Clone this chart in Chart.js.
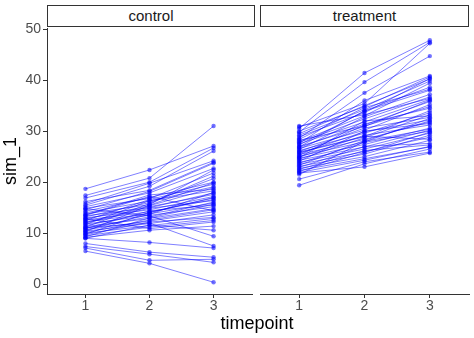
<!DOCTYPE html>
<html lang="en">
<head>
  <meta charset="UTF-8">
  <title>sim_1 by timepoint</title>
  <script src="https://cdn.jsdelivr.net/npm/chart.js"></script>
  <style>
    body { margin: 0; background: #fff; font-family: "Liberation Sans", Arial, sans-serif; }
    #wrap { position: relative; width: 474px; height: 338px; }
    .strip { position: absolute; top: 5px; height: 22px; box-sizing: border-box; border: 1px solid #333;
             text-align: center; line-height: 20px; font-size: 15px; color: #1a1a1a; background: #fff; }
    .panel { position: absolute; top: 0; }
    #xtitle { position: absolute; left: 0; width: 514px; top: 313px; text-align: center; font-size: 18px; line-height: 20px; color: #000; }
  </style>
</head>
<body>
<div id="wrap">
  <div class="panel" style="left:0"><canvas id="leftChart" width="256" height="338"></canvas></div>
  <div class="panel" style="left:256px"><canvas id="rightChart" width="218" height="338"></canvas></div>
  <div class="strip" style="left:47px;width:208px">control</div>
  <div class="strip" style="left:260px;width:209px">treatment</div>
  <div id="xtitle">timepoint</div>
</div>

<script>
  // tick values and categories
  const timepoints = [1, 2, 3];
  const yTicks = [0, 10, 20, 30, 40, 50];
  const groups = ['control', 'treatment'];

  // one value per subject at each timepoint
  const controlT1 = [18.7, 17.4, 16.9, 16.2, 15.5, 15.2, 14.9, 14.6, 14.3, 14.0,
                     13.8, 13.6, 13.4, 13.2, 13.0, 12.8, 12.6, 12.5, 12.3, 12.1,
                     12.0, 11.8, 11.7, 11.5, 11.3, 11.2, 11.0, 10.9, 10.7, 10.6,
                     10.4, 10.3, 10.1, 10.0, 9.8, 9.7, 9.5, 9.3, 9.2, 9.0,
                     14.8, 12.9, 13.5, 11.1, 9.0, 8.0, 7.1, 6.5, 7.4, 15.8];
  const controlT2 = [22.4, 20.8, 20.0, 18.4, 19.2, 17.9, 16.8, 18.2, 17.0, 16.3,
                     15.6, 17.5, 15.0, 16.0, 14.6, 15.4, 14.2, 16.6, 13.8, 15.2,
                     14.9, 13.5, 16.4, 14.0, 12.9, 15.8, 13.2, 14.4, 12.4, 13.7,
                     11.9, 15.5, 12.6, 11.5, 14.1, 12.2, 11.2, 13.0, 10.6, 11.6,
                     13.4, 10.9, 17.2, 12.0, 8.2, 6.3, 4.7, 4.1, 5.9, 19.8];
  const controlT3 = [27.1, 31.0, 26.7, 23.9, 26.1, 22.7, 21.8, 23.7, 20.0, 19.1,
                     22.4, 18.6, 17.9, 20.7, 17.2, 18.9, 16.6, 19.6, 15.9, 17.6,
                     16.4, 15.2, 18.3, 17.0, 14.8, 21.2, 16.1, 15.5, 14.2, 18.0,
                     13.6, 19.9, 14.6, 12.9, 16.9, 13.1, 12.5, 15.7, 11.4, 10.6,
                     9.4, 12.2, 14.4, 7.5, 7.1, 5.3, 4.9, 0.4, 4.3, 24.2];

  const treatmentT1 = [30.5, 29.8, 28.6, 30.8, 30.0, 29.5, 29.2, 28.9, 28.4, 28.0,
                       27.8, 27.5, 27.3, 27.0, 26.8, 26.6, 26.4, 26.2, 26.0, 25.8,
                       25.6, 25.4, 25.3, 25.1, 24.9, 24.7, 24.5, 24.3, 24.1, 23.9,
                       23.7, 23.5, 23.3, 23.1, 22.9, 22.7, 22.5, 22.3, 22.1, 21.9,
                       21.8, 20.6, 19.4, 27.6, 26.9, 31.0, 28.2, 24.8, 21.5, 25.9];
  const treatmentT2 = [41.4, 39.6, 37.5, 35.4, 34.8, 35.0, 34.2, 33.6, 34.6, 33.0,
                       32.4, 31.8, 33.9, 30.9, 31.4, 30.2, 32.8, 29.6, 30.6, 28.9,
                       29.9, 28.4, 31.2, 27.9, 29.2, 27.4, 28.7, 26.9, 30.0, 26.5,
                       27.8, 26.0, 28.2, 25.5, 27.0, 25.0, 26.2, 24.6, 25.8, 24.3,
                       23.0, 24.0, 23.6, 36.0, 34.0, 33.2, 31.0, 32.0, 28.0, 29.0];
  const treatmentT3 = [47.8, 47.4, 44.7, 47.2, 40.6, 40.2, 39.8, 40.3, 38.2, 39.4,
                       36.7, 36.2, 38.0, 36.0, 34.5, 35.2, 37.2, 33.6, 32.7, 34.0,
                       32.2, 31.8, 35.8, 32.5, 31.2, 30.6, 33.2, 30.2, 31.5, 29.6,
                       30.0, 28.8, 32.0, 29.2, 27.6, 28.2, 27.3, 26.9, 29.8, 27.0,
                       25.7, 25.9, 26.5, 40.8, 38.6, 36.4, 34.8, 33.0, 30.4, 28.4];

  const lineColor = 'rgba(0, 0, 255, 0.5)';
  const pointColor = 'rgba(0, 0, 255, 0.55)';
  const axisColor = '#333333';
  const tickTextColor = '#4d4d4d';
  const fontFamily = '"Liberation Sans", Arial, sans-serif';

  function buildDatasets(series) {
    const n = series[0].length;
    const sets = [];
    for (let i = 0; i < n; i++) {
      sets.push({
        data: timepoints.map((t, j) => ({ x: t, y: series[j][i] })),
        borderColor: lineColor,
        borderWidth: 1,
        backgroundColor: pointColor,
        pointBackgroundColor: pointColor,
        pointBorderWidth: 0,
        pointRadius: 2.2,
        fill: false,
        tension: 0
      });
    }
    return sets;
  }

  function xScale() {
    return {
      type: 'linear',
      min: 0.4,
      max: 3.6,
      afterBuildTicks: s => { s.ticks = timepoints.map(v => ({ value: v })); },
      afterFit: s => { s.height = 44; },
      border: { display: true, color: axisColor, width: 1 },
      grid: { display: true, drawOnChartArea: false, drawTicks: true, tickLength: 4, color: axisColor },
      ticks: { color: tickTextColor, font: { size: 14, family: fontFamily }, padding: 0, maxRotation: 0 }
    };
  }

  function yScale(show) {
    return {
      type: 'linear',
      display: show,
      min: -1.9,
      max: 50.2,
      afterBuildTicks: s => { s.ticks = yTicks.map(v => ({ value: v })); },
      afterFit: s => { s.width = show ? 47 : 0; },
      border: { display: true, color: axisColor, width: 1 },
      grid: { display: true, drawOnChartArea: false, drawTicks: true, tickLength: 4, color: axisColor },
      ticks: { color: tickTextColor, font: { size: 14, family: fontFamily }, padding: 2 },
      title: { display: true, text: 'sim_1', color: '#000', font: { size: 18, family: fontFamily }, padding: { top: 0, bottom: 2 } }
    };
  }

  function makeChart(id, series, showY, padding) {
    return new Chart(document.getElementById(id), {
      type: 'line',
      data: { datasets: buildDatasets(series) },
      options: {
        responsive: false,
        animation: false,
        layout: { padding: padding },
        plugins: { legend: { display: false }, tooltip: { enabled: false } },
        scales: { x: xScale(), y: yScale(showY) }
      }
    });
  }

  makeChart('leftChart', [controlT1, controlT2, controlT3], true, { top: 28, right: 2, bottom: 0, left: 0 });
  makeChart('rightChart', [treatmentT1, treatmentT2, treatmentT3], false, { top: 28, right: 5, bottom: 0, left: 4 });
</script>
</body>
</html>
